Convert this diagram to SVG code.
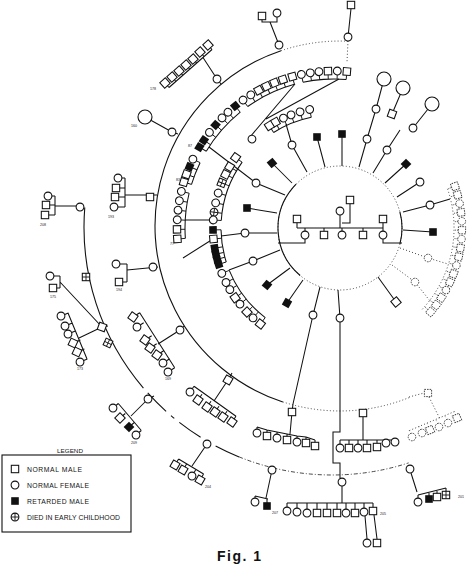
<svg xmlns="http://www.w3.org/2000/svg" width="474" height="570" viewBox="0 0 474 570">
<style>
.ln{fill:none;stroke:#111;stroke-width:1.05}
.dt{fill:none;stroke:#333;stroke-width:.9;stroke-dasharray:1 2.2}
.arc{fill:none;stroke:#111;stroke-width:1.1}
.lg{font-family:"Liberation Sans",Arial,sans-serif;font-size:6.8px;fill:#111}
.lb{font-family:"Liberation Sans",Arial,sans-serif;font-size:3.6px;fill:#222}
.fig{font-family:"Liberation Sans",Arial,sans-serif;font-size:14px;font-weight:bold;fill:#111;letter-spacing:1.5px}
</style>
<defs>
<rect id="M" x="-3.7" y="-3.7" width="7.4" height="7.4" fill="#fff" stroke="#111" stroke-width="1.05"/>
<circle id="F" r="3.9" fill="#fff" stroke="#111" stroke-width="1.05"/>
<rect id="A" x="-3.8" y="-3.8" width="7.6" height="7.6" fill="#111"/>
<g id="X"><circle r="3.9" fill="#fff" stroke="#111" stroke-width="1.05"/><path d="M-3.9 0H3.9M0-3.9V3.9" stroke="#111" stroke-width=".9"/></g>
<g id="Q"><rect x="-3.7" y="-3.7" width="7.4" height="7.4" fill="#fff" stroke="#111" stroke-width="1.05"/><path d="M-3.7 0H3.7M0-3.7V3.7" stroke="#111" stroke-width=".9"/></g>
<rect id="m" x="-3.6" y="-3.6" width="7.2" height="7.2" fill="#fff" stroke="#333" stroke-width=".9" stroke-dasharray="1.6 1"/>
<circle id="f" r="3.8" fill="#fff" stroke="#333" stroke-width=".9" stroke-dasharray="1.6 1"/>
<circle id="BF" r="7" fill="#fff" stroke="#111" stroke-width="1.1"/>
<g id="Mt"><path d="M0 0H8" stroke="#111" stroke-width=".9"/><use href="#M"/></g>
<g id="Ft"><path d="M0 0H8" stroke="#111" stroke-width=".9"/><use href="#F"/></g>
<g id="At"><path d="M0 0H8" stroke="#111" stroke-width=".9"/><use href="#A"/></g>
<g id="Xt"><path d="M0 0H8" stroke="#111" stroke-width=".9"/><use href="#X"/></g>
<g id="Qt"><path d="M0 0H8" stroke="#111" stroke-width=".9"/><use href="#Q"/></g>
<g id="mt"><path d="M0 0H8" stroke="#333" stroke-width=".8" stroke-dasharray="1 1"/><use href="#m"/></g>
<g id="ft"><path d="M0 0H8" stroke="#333" stroke-width=".8" stroke-dasharray="1 1"/><use href="#f"/></g>
</defs>
<rect width="474" height="570" fill="#fff"/>

<g id="arcs">
<circle class="dt" cx="340" cy="228" r="62"/>
<circle class="arc" cx="340" cy="228" r="62" pathLength="360" stroke-dasharray="95 265" transform="rotate(-230 340 228)"/>
<circle class="arc" cx="340" cy="228" r="62" pathLength="360" stroke-dasharray="30 330" transform="rotate(-15 340 228)"/>
<circle class="arc" cx="340" cy="226" r="185" pathLength="360" stroke-dasharray="143.4 216.6" transform="rotate(-252 340 226)"/>
<path class="dt" d="M281 50.7A185 185 0 0 1 349.7 41.3"/>
<path class="dt" d="M282.8 401.9A185 185 0 0 0 409.3 397.5"/>
<circle class="arc" cx="332" cy="227" r="248" pathLength="360" stroke-dasharray="45 315" transform="rotate(-220.5 332 227)"/>
<circle class="arc" cx="332" cy="227" r="248" pathLength="360" stroke-dasharray="6 1.5 1 1.5 6 1.5 1 1.5 6 1.5 0 332.5" transform="rotate(-248 332 227)"/>
<path class="dt" d="M239.1 456.9A248 248 0 0 0 408.6 462.9" style="stroke-dasharray:4 2 1 2"/>
<circle class="ln" cx="334" cy="228" r="149" pathLength="360" stroke-dasharray="17.5 3.5 9 5 20 3.6 20 3.4 16.7 261.3" transform="rotate(-184 334 228)"/>
<circle class="ln" cx="334" cy="228" r="113" pathLength="360" stroke-dasharray="30.5 4.5 16.6 4.7 31.8 22.1 20.7 229.1" transform="rotate(-232.5 334 228)"/>
<path class="dt" d="M447.5 188.9A120 120 0 0 1 421.8 309.8"/>
</g>

<g id="connectors">
<path class="ln" d="M350 203.5V223H342M340 215V228M297 228H383M297 222.5V228M305 228V231M324 228V231.5M342 228V231M363 228V231.5M383 222.5V231M278 243H305V239M383 239V243H402"/>
<path class="ln" d="M277 213L247 208M277 233L245 233L221 236M280 250L253 261L229 270M290 268L267 285M303 280L287 303M320 287L313 315L293 404L292 412M338 290L340 318V432H333V463H340V478M378 277L396 302M403 230L433 232M403 212L430 205L450 199M397 197L420 182M385 183L406 164M373 173L387 150L400 130M359 167L367 139L376 109L384 79M342 166L342 134M325 167L317 137M307 172L292 145L286 124M292 183L272 163M285 195L256 183L209 147"/>
<path class="dt" d="M392 265L415 282L430 301M400 248L428 258L448 264"/>
<path class="ln" d="M392 114L403 88M413 128L432 104M339 79L266 119M295 84L250 137M185 220H213M183 258L213 239"/>
<path class="ln" d="M262 19.5V22H277V17M270 22L279 45M351 8.5L348 37"/>
<path class="dt" d="M348 41L347 62"/>
<path class="ln" d="M169 87.5L212 49.5M165 83l4 4.5M172 77l4 4.5M179 71l4 4.5M186 65l4 4.5M193 59l4 4.5M200 52l4 4.5M208 45l4 4.5M203 57.5L217 79L221 84"/>
<path class="ln" d="M145 117L172 132L178 134"/>
<path class="ln" d="M48 196H55M46 205H55M45 215H55M55 196V215M55 206H84"/>
<path class="ln" d="M118 178H125M116 188H125M115 197H125M114 207H125M125 178V207M125 195H157"/>
<path class="ln" d="M116 264H127M119 282H127M127 264V282M127 270L158 267"/>
<path class="ln" d="M50 276H60M53 288H60M60 276V288M60 282L102 327L108 326"/>
<path class="ln" d="M68 313L87 359M61 316l7.4-3M65 326l7.4-3M68 334l7.4-3M73 343l7.4-3M77 352l7.4-3M80 362l7.4-3M79 338L102 327"/>
<path class="ln" d="M139.7 312.7L174.7 367.7M133 317l6.7-4.3M137 327l6.7-4.3M145 340l6.7-4.3M150 348l6.7-4.3M157 355l6.7-4.3M163 363l6.7-4.3M168 372l6.7-4.3M158 344L180 330L184 326"/>
<path class="ln" d="M228 380L232 373M194 386.3L236 416.3M190 392l4-5.7M198 400l4-5.7M207 407l4-5.7M215 412l4-5.7M223 417l4-5.7M232 422l4-5.7M228 380L214 401"/>
<path class="ln" d="M257 427L267 430L277 432L287 434L297 436L306 437L315 440M257 427v6M267 430v6M277 432v6M287 434v6M297 436v6M306 437v6M315 440v6M292 412L290 434"/>
<path class="ln" d="M363 417V440M340 440H395M340 440v8M349 440v8M358 440v8M367 440v8M377 440v7M386 440v3M395 440v2"/>
<path class="ln" d="M342 486V503M287 503H373M287 503v8M297 503v9M307 503v10M317 503v10M327 503v10M337 503v10M346 503v10M355 503v10M364 503v9M373 503v8M365 516L367 539M374 515L377 539"/>
<path class="ln" d="M118.3 403.5L141.3 430.5M113 408l5.3-4.5M120 418l5.3-4.5M129 427l5.3-4.5M136 435l5.3-4.5M148 399L131 416M148 399L154 396"/>
<path class="ln" d="M178.6 459L203.6 474M175 465l3.6-6M183 470l3.6-6M192 476l3.6-6M200 480l3.6-6M207 444L192 466"/>
<path class="ln" d="M255 496L268 499M255 496v6M267 499v7M272 470L266 498"/>
<path class="ln" d="M411 473L417 492M418 495L446 488M418 495v7M429 493v6M437 491v6M446 488v7"/>
<path class="dt" d="M409 397L424 393M429 397L440 419M409.3 430.6L454.3 411.6M412 437l-2.7-6.4M422 433l-2.7-6.4M430 430l-2.7-6.4M439 427l-2.7-6.4M448 423l-2.7-6.4M457 418l-2.7-6.4"/>
</g>

<g id="n-center">
<use href="#M" x="350" y="200"/><use href="#F" x="340" y="211"/>
<use href="#M" x="297" y="219"/><use href="#F" x="305" y="235"/>
<use href="#M" x="324" y="235"/><use href="#F" x="342" y="235"/>
<use href="#M" x="363" y="235"/><use href="#F" x="383" y="235"/><use href="#M" x="383" y="219"/>
</g>

<g id="n-spokes">
<use href="#A" x="247" y="208"/><use href="#F" x="245" y="233"/><use href="#F" x="253" y="261"/>
<use href="#A" transform="translate(267 285) rotate(40)"/><use href="#A" transform="translate(287 303) rotate(30)"/>
<use href="#F" x="313" y="315"/><use href="#F" x="340" y="318"/>
<use href="#M" transform="translate(396 302) rotate(-40)"/>
<use href="#f" x="415" y="282"/><use href="#f" x="428" y="258"/>
<use href="#A" x="433" y="232"/><use href="#F" x="430" y="205"/><use href="#F" x="420" y="182"/>
<use href="#A" transform="translate(406 164) rotate(45)"/><use href="#F" x="387" y="150"/>
<use href="#F" x="367" y="139"/><use href="#F" x="376" y="109"/><use href="#BF" x="384" y="79"/>
<use href="#M" transform="translate(392 114) rotate(20)"/><use href="#BF" x="403" y="88"/>
<use href="#F" x="413" y="128"/><use href="#BF" x="432" y="104"/>
<use href="#A" x="342" y="134"/><use href="#A" x="317" y="137"/>
<use href="#F" x="292" y="145"/><use href="#A" transform="translate(272 163) rotate(-40)"/><use href="#F" x="256" y="183"/>
</g>

<g id="n-ring-outer">
<use href="#Mt" transform="rotate(94.7 334 228)" x="177" y="228"/>
<use href="#Ft" transform="rotate(91.2 334 228)" x="177" y="228"/>
<use href="#Mt" transform="rotate(87.8 334 228)" x="177" y="228"/>
<use href="#Ft" transform="rotate(84.5 334 228)" x="177" y="228"/>
<use href="#Ft" transform="rotate(81.3 334 228)" x="177" y="228"/>
<use href="#Ft" transform="rotate(78 334 228)" x="177" y="228"/>
<use href="#Mt" transform="rotate(74.6 334 228)" x="177" y="228"/>
<use href="#Mt" transform="rotate(71 334 228)" x="177" y="228"/>
<use href="#Mt" transform="rotate(67.7 334 228)" x="177" y="228"/>
<use href="#Mt" transform="rotate(64.5 334 228)" x="177" y="228"/>
<use href="#Mt" transform="rotate(61.3 334 228)" x="177" y="228"/>
<use href="#Ft" transform="rotate(58 334 228)" x="177" y="228"/>
<use href="#Ft" transform="rotate(54.6 334 228)" x="177" y="228"/>
<use href="#At" transform="rotate(51 334 228)" x="177" y="228"/>
<use href="#Ft" transform="rotate(47.5 334 228)" x="177" y="228"/>
<use href="#Ft" transform="rotate(44.5 334 228)" x="177" y="228"/>
<use href="#At" transform="rotate(41 334 228)" x="177" y="228"/>
<use href="#Ft" transform="rotate(37.5 334 228)" x="177" y="228"/>
<use href="#At" transform="rotate(34 334 228)" x="177" y="228"/>
<use href="#At" transform="rotate(31 334 228)" x="177" y="228"/>
<use href="#Ft" transform="rotate(26 334 228)" x="177" y="228"/>
<use href="#At" transform="rotate(23 334 228)" x="177" y="228"/>
<use href="#Mt" transform="rotate(20 334 228)" x="177" y="228"/>
<use href="#Mt" transform="rotate(17 334 228)" x="177" y="228"/>
<use href="#Ft" transform="rotate(13.5 334 228)" x="177" y="228"/>
<use href="#Ft" transform="rotate(10 334 228)" x="177" y="228"/>
<use href="#Ft" transform="rotate(6.5 334 228)" x="177" y="228"/>
<use href="#Ft" transform="rotate(3 334 228)" x="177" y="228"/>
<use href="#Mt" transform="rotate(-0.5 334 228)" x="177" y="228"/>
<use href="#Mt" transform="rotate(-4 334 228)" x="177" y="228"/>
</g>

<g id="n-ring-inner">
<use href="#Ft" transform="rotate(78.4 334 228)" x="213" y="228"/>
<use href="#Ft" transform="rotate(73.7 334 228)" x="213" y="228"/>
<use href="#Ft" transform="rotate(69.2 334 228)" x="213" y="228"/>
<use href="#Ft" transform="rotate(65.3 334 228)" x="213" y="228"/>
<use href="#Mt" transform="rotate(61 334 228)" x="213" y="228"/>
<use href="#Mt" transform="rotate(57.7 334 228)" x="213" y="228"/>
<use href="#F" transform="rotate(47.3 334 228)" x="213" y="228"/>
<use href="#Mt" transform="rotate(35.6 334 228)" x="213" y="228"/>
<use href="#Mt" transform="rotate(30.4 334 228)" x="213" y="228"/>
<use href="#Mt" transform="rotate(26.3 334 228)" x="213" y="228"/>
<use href="#Qt" transform="rotate(21.9 334 228)" x="213" y="228"/>
<use href="#Ft" transform="rotate(16.8 334 228)" x="213" y="228"/>
<use href="#Ft" transform="rotate(12 334 228)" x="213" y="228"/>
<use href="#Xt" transform="rotate(7.5 334 228)" x="213" y="228"/>
<use href="#Ft" transform="rotate(3.8 334 228)" x="213" y="228"/>
<use href="#At" transform="rotate(-0.9 334 228)" x="213" y="228"/>
<use href="#Mt" transform="rotate(-5.2 334 228)" x="213" y="228"/>
<use href="#At" transform="rotate(-9.6 334 228)" x="213" y="228"/>
<use href="#At" transform="rotate(-12.5 334 228)" x="213" y="228"/>
<use href="#At" transform="rotate(-15 334 228)" x="213" y="228"/>
<use href="#At" transform="rotate(-17.5 334 228)" x="213" y="228"/>
<use href="#Ft" transform="rotate(-22 334 228)" x="213" y="228"/>
<use href="#Ft" transform="rotate(-26.8 334 228)" x="213" y="228"/>
<use href="#Ft" transform="rotate(-30.6 334 228)" x="213" y="228"/>
<use href="#Mt" transform="rotate(-35.2 334 228)" x="213" y="228"/>
<use href="#Ft" transform="rotate(-39 334 228)" x="213" y="228"/>
<use href="#Mt" transform="rotate(-44 334 228)" x="213" y="228"/>
<use href="#Ft" transform="rotate(-48 334 228)" x="213" y="228"/>
<use href="#Mt" transform="rotate(-52.5 334 228)" x="213" y="228"/>
</g>

<g id="n-ring-right">
<use href="#mt" transform="rotate(161 334 228)" x="206" y="228"/>
<use href="#mt" transform="rotate(165 334 228)" x="206" y="228"/>
<use href="#ft" transform="rotate(169 334 228)" x="206" y="228"/>
<use href="#mt" transform="rotate(173 334 228)" x="206" y="228"/>
<use href="#ft" transform="rotate(177 334 228)" x="206" y="228"/>
<use href="#mt" transform="rotate(181 334 228)" x="206" y="228"/>
<use href="#ft" transform="rotate(185 334 228)" x="206" y="228"/>
<use href="#mt" transform="rotate(189 334 228)" x="206" y="228"/>
<use href="#mt" transform="rotate(193 334 228)" x="206" y="228"/>
<use href="#ft" transform="rotate(197 334 228)" x="206" y="228"/>
<use href="#mt" transform="rotate(201 334 228)" x="206" y="228"/>
<use href="#mt" transform="rotate(205 334 228)" x="206" y="228"/>
<use href="#ft" transform="rotate(209 334 228)" x="206" y="228"/>
<use href="#mt" transform="rotate(213 334 228)" x="206" y="228"/>
<use href="#mt" transform="rotate(217 334 228)" x="206" y="228"/>
<use href="#mt" transform="rotate(221 334 228)" x="206" y="228"/>
</g>

<g id="n-top">
<use href="#M" x="262" y="16"/><use href="#F" x="277" y="13"/><use href="#F" x="279" y="45"/>
<use href="#M" x="351" y="5"/><use href="#F" x="348" y="37"/>
</g>
<g id="n-178">
<use href="#M" transform="translate(165 83) rotate(-42)"/><use href="#M" transform="translate(172 77) rotate(-42)"/><use href="#M" transform="translate(179 71) rotate(-42)"/><use href="#M" transform="translate(186 65) rotate(-42)"/><use href="#M" transform="translate(193 59) rotate(-42)"/><use href="#M" transform="translate(200 52) rotate(-42)"/><use href="#M" transform="translate(208 45) rotate(-42)"/>
<use href="#F" x="217" y="79"/>
</g>
<g id="n-160"><use href="#BF" x="145" y="117"/><use href="#F" x="172" y="132"/></g>
<g id="n-208"><use href="#F" x="48" y="196"/><use href="#M" x="46" y="205"/><use href="#M" x="45" y="215"/><use href="#F" x="80" y="207"/></g>
<g id="n-193"><use href="#F" x="118" y="178"/><use href="#M" x="116" y="188"/><use href="#M" x="115" y="197"/><use href="#F" x="114" y="207"/><use href="#M" x="150" y="197"/></g>
<g id="n-194"><use href="#F" x="116" y="264"/><use href="#M" x="119" y="282"/><use href="#F" x="153" y="267"/></g>
<g id="n-175"><use href="#F" x="50" y="276"/><use href="#M" x="53" y="288"/><use href="#Q" x="86" y="277"/></g>
<g id="n-173"><use href="#F" x="61" y="316"/><use href="#F" x="65" y="326"/><use href="#F" x="68" y="334"/><use href="#M" transform="translate(73 343) rotate(25)"/><use href="#M" transform="translate(77 352) rotate(25)"/><use href="#F" x="80" y="362"/><use href="#M" transform="translate(102 327) rotate(20)"/><use href="#Q" transform="translate(108 343) rotate(25)"/></g>
<g id="n-169"><use href="#M" transform="translate(133 317) rotate(35)"/><use href="#F" x="137" y="327"/><use href="#M" transform="translate(145 340) rotate(35)"/><use href="#M" transform="translate(150 348) rotate(35)"/><use href="#M" transform="translate(157 355) rotate(35)"/><use href="#F" x="163" y="363"/><use href="#F" x="168" y="372"/><use href="#F" x="180" y="330"/></g>
<g id="n-187"><use href="#F" x="190" y="392"/><use href="#M" transform="translate(198 400) rotate(35)"/><use href="#M" transform="translate(207 407) rotate(35)"/><use href="#M" transform="translate(215 412) rotate(35)"/><use href="#M" transform="translate(223 417) rotate(35)"/><use href="#M" transform="translate(232 422) rotate(35)"/><use href="#M" transform="translate(228 380) rotate(30)"/></g>
<g id="n-188"><use href="#F" x="257" y="433"/><use href="#M" x="267" y="436"/><use href="#F" x="277" y="438"/><use href="#M" x="287" y="440"/><use href="#F" x="297" y="442"/><use href="#M" x="306" y="443"/><use href="#M" x="315" y="446"/><use href="#M" x="292" y="412"/></g>
<g id="n-124"><use href="#F" x="340" y="448"/><use href="#M" x="349" y="448"/><use href="#F" x="358" y="448"/><use href="#M" x="367" y="448"/><use href="#M" x="377" y="447"/><use href="#F" x="386" y="443"/><use href="#F" x="395" y="442"/><use href="#M" x="363" y="413"/></g>
<g id="n-205"><use href="#F" x="342" y="482"/><use href="#F" x="287" y="511"/><use href="#F" x="297" y="512"/><use href="#F" x="307" y="513"/><use href="#M" x="317" y="513"/><use href="#M" x="327" y="513"/><use href="#M" x="337" y="513"/><use href="#F" x="346" y="513"/><use href="#M" x="355" y="513"/><use href="#F" x="364" y="512"/><use href="#M" x="373" y="511"/><use href="#F" x="367" y="543"/><use href="#M" x="377" y="543"/></g>
<g id="n-209"><use href="#F" x="113" y="408"/><use href="#M" transform="translate(120 418) rotate(45)"/><use href="#A" transform="translate(129 427) rotate(45)"/><use href="#F" x="136" y="435"/><use href="#F" x="148" y="399"/></g>
<g id="n-204"><use href="#M" transform="translate(175 465) rotate(30)"/><use href="#M" transform="translate(183 470) rotate(30)"/><use href="#F" x="192" y="476"/><use href="#M" transform="translate(200 480) rotate(30)"/><use href="#F" x="207" y="444"/></g>
<g id="n-207"><use href="#F" x="255" y="502"/><use href="#A" x="267" y="506"/><use href="#F" x="272" y="470"/></g>
<g id="n-203"><use href="#F" x="418" y="502"/><use href="#A" x="429" y="499"/><use href="#M" x="437" y="497"/><use href="#Q" x="446" y="495"/><use href="#F" x="410" y="469"/></g>
<g id="n-201"><use href="#f" x="412" y="437"/><use href="#f" x="422" y="433"/><use href="#m" transform="translate(430 430) rotate(-23)"/><use href="#f" x="439" y="427"/><use href="#f" x="448" y="423"/><use href="#m" transform="translate(457 418) rotate(-23)"/><use href="#m" x="428" y="393"/></g>

<g id="labels">
<text class="lb" x="150" y="90">178</text>
<text class="lb" x="131" y="127">160</text>
<text class="lb" x="40" y="226">208</text>
<text class="lb" x="108" y="218">193</text>
<text class="lb" x="116" y="291">194</text>
<text class="lb" x="50" y="298">175</text>
<text class="lb" x="77" y="370">173</text>
<text class="lb" x="165" y="380">169</text>
<text class="lb" x="131" y="444">209</text>
<text class="lb" x="205" y="488">204</text>
<text class="lb" x="272" y="514">207</text>
<text class="lb" x="380" y="515">205</text>
<text class="lb" x="458" y="498">201</text>
<text class="lb" x="188" y="147">87</text>
<text class="lb" x="176" y="181">83</text>
<text class="lb" x="170" y="245">77</text>
</g>

<g id="legend">
<rect x="2" y="455" width="129" height="77" fill="none" stroke="#111" stroke-width="1.1"/>
<text class="lg" x="57" y="453" textLength="26" lengthAdjust="spacingAndGlyphs" style="font-size:6px">LEGEND</text>
<use href="#M" x="15" y="469"/><text class="lg" x="27" y="471.5" textLength="55" lengthAdjust="spacing">NORMAL MALE</text>
<use href="#F" x="15" y="485"/><text class="lg" x="27" y="487.5" textLength="62" lengthAdjust="spacing">NORMAL FEMALE</text>
<use href="#A" x="15" y="501"/><text class="lg" x="27" y="503.5" textLength="62" lengthAdjust="spacing">RETARDED MALE</text>
<use href="#X" x="15" y="517"/><text class="lg" x="27" y="519.5" textLength="93" lengthAdjust="spacing">DIED IN EARLY CHILDHOOD</text>
</g>
<text class="fig" x="217" y="561">Fig. 1</text>
</svg>
